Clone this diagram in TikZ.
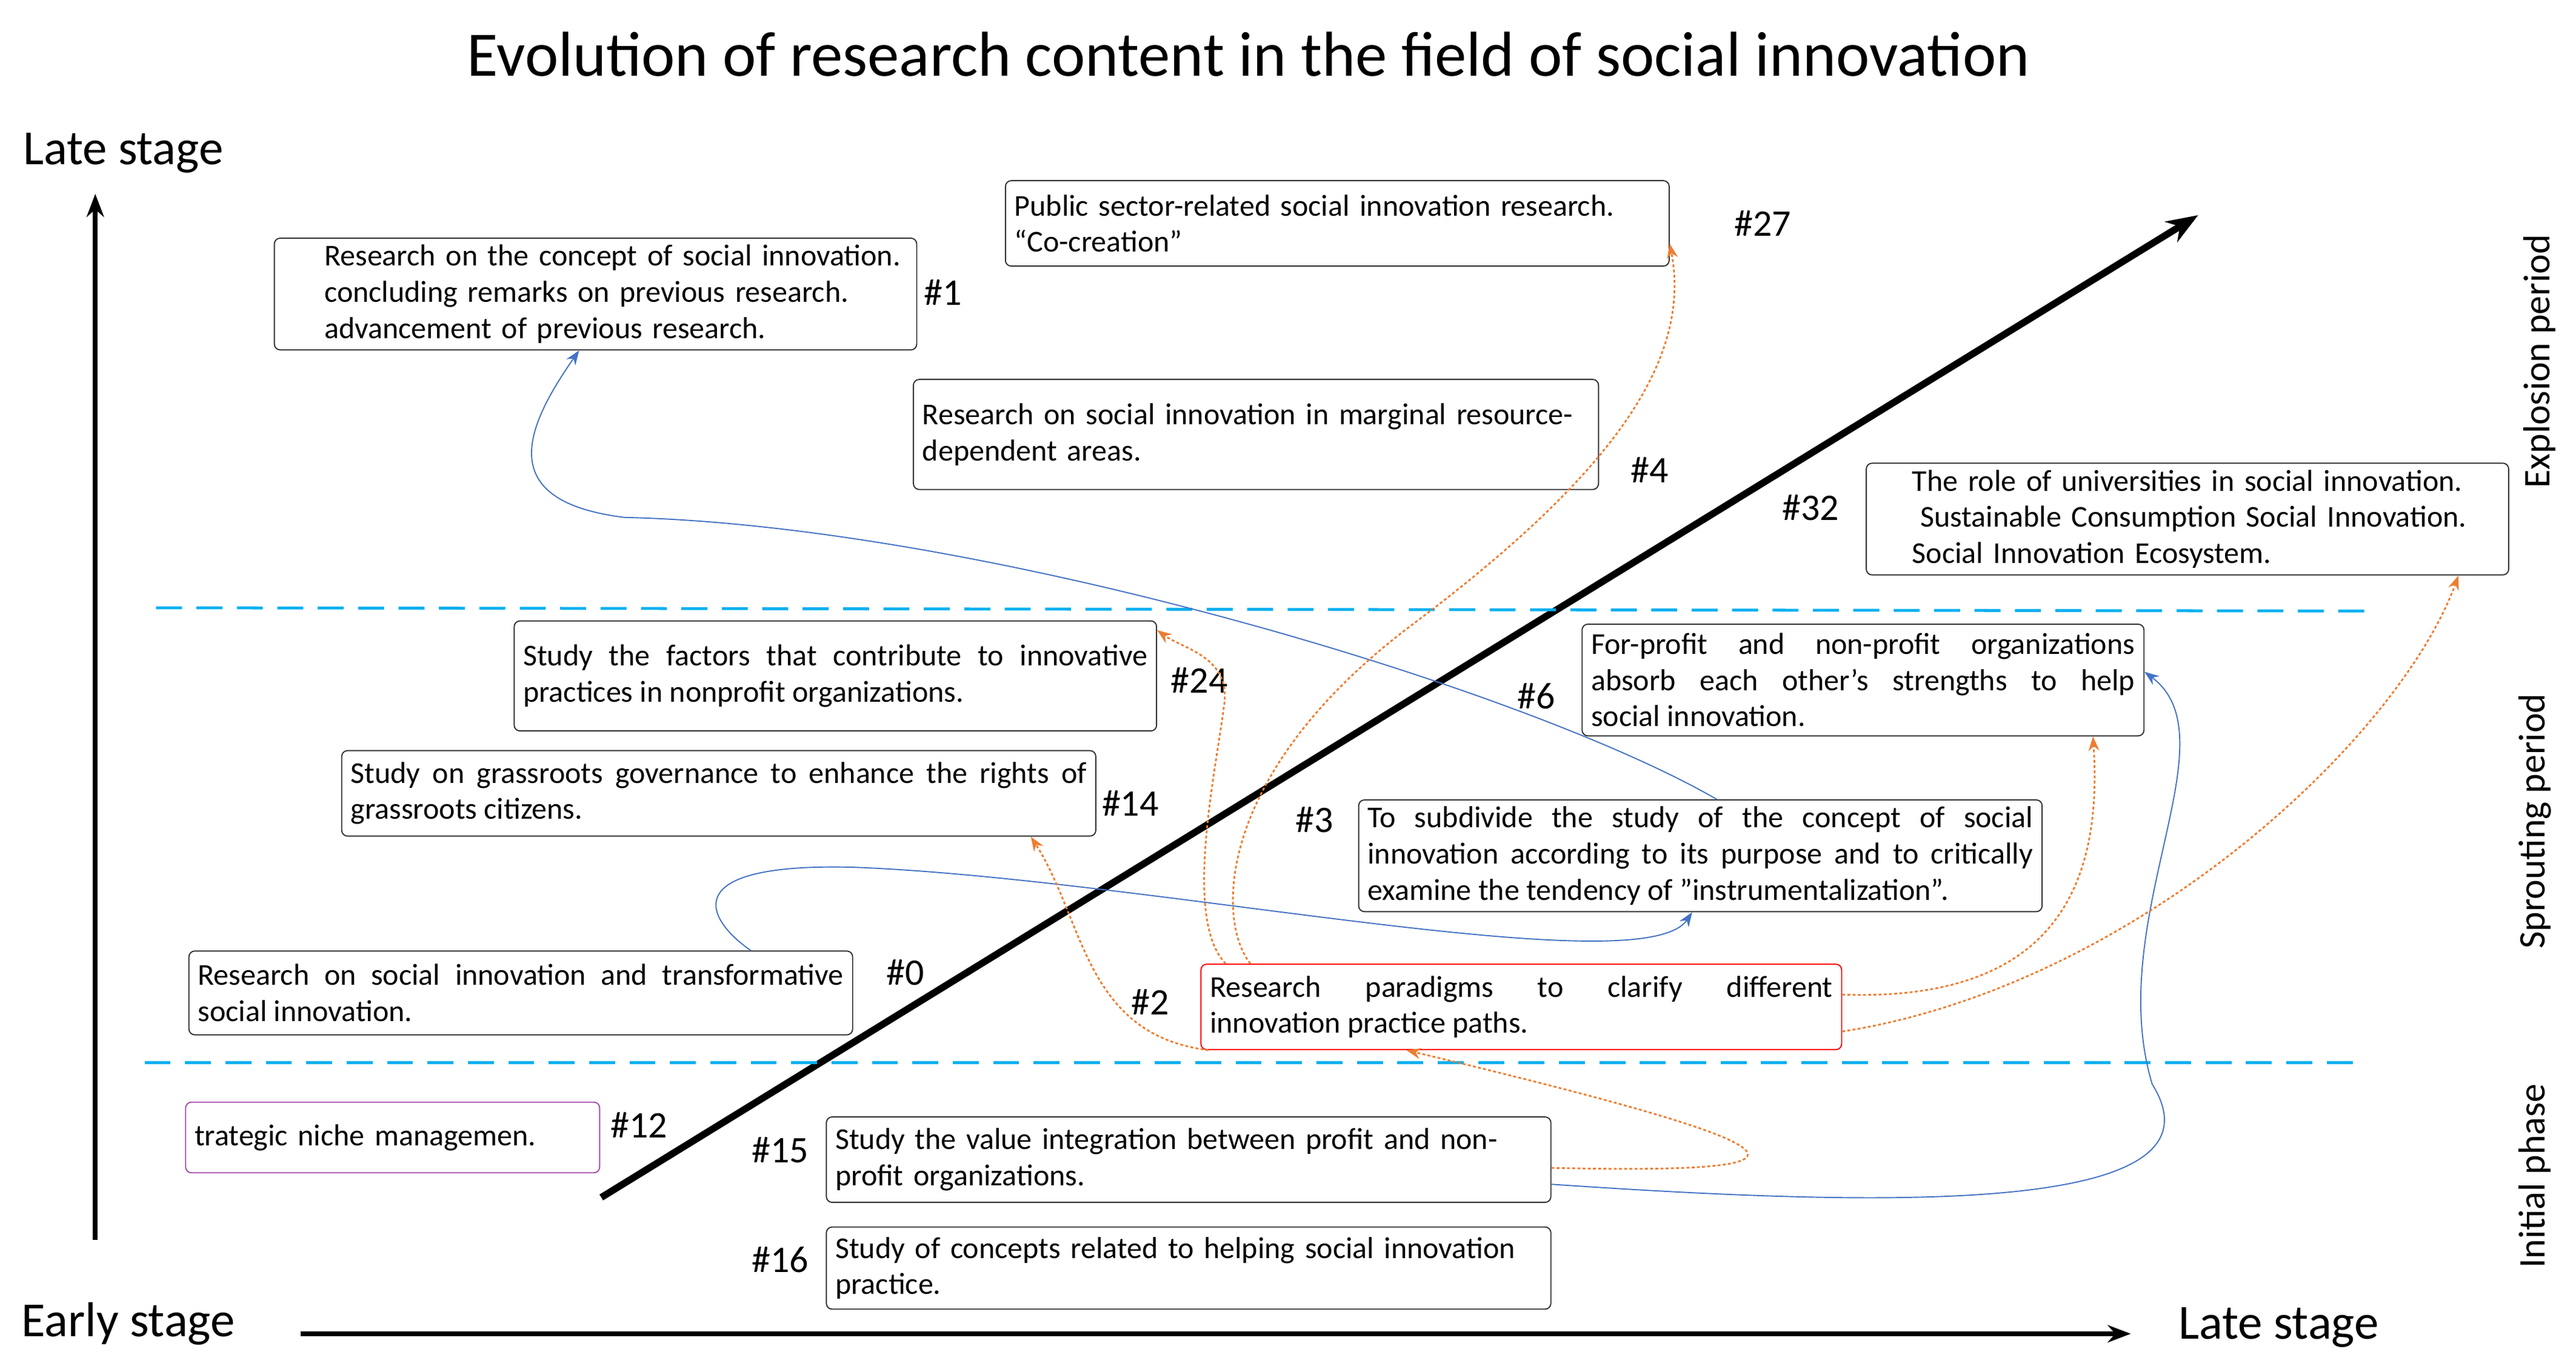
\documentclass[tikz,border=0pt]{standalone}
\usepackage{fontspec}
\setmainfont{Carlito}
\usetikzlibrary{arrows.meta}
\definecolor{bl}{HTML}{4472C4}
\definecolor{og}{HTML}{ED7D31}
\definecolor{cy}{HTML}{00B0F0}
\hyphenpenalty=10000
\newcommand{\bx}[7]{%
  \pgfmathsetmacro{\cx}{(#2+#4)/2}\pgfmathsetmacro{\cy}{(#3+#5)/2}%
  \pgfmathsetmacro{\ww}{(#4-#2)*0.02}\pgfmathsetmacro{\hh}{(#5-#3)*0.02}%
  \pgfmathsetmacro{\tw}{(#4-#2)*0.02-0.22}%
  \node[box,minimum width=\ww cm,minimum height=\hh cm,text width=\tw cm,#6] (#1) at (\cx,\cy) {#7};}
\begin{document}
\begin{tikzpicture}[x=0.02cm,y=-0.02cm,
  box/.style={draw=black!80,rounded corners=2pt,inner sep=0pt,font=\fontsize{10.5}{12.5}\selectfont,align=left},
  lab/.style={font=\fontsize{13}{13}\selectfont},
  bc/.style={draw=bl,thin,-{Stealth[length=5pt]}},
  oc/.style={draw=og,semithick,dash pattern=on 1pt off 0.8pt,-{Stealth[length=5pt]}},
  cyl/.style={draw=cy,line width=1pt,dash pattern=on 9pt off 5pt}]
\useasboundingbox (0,0) rectangle (1568,835);
\node[font=\fontsize{22}{22}\selectfont] (title) at (760,33) {Evolution of research content in the field of social innovation};
% axes
\coordinate (va) at (58,755); \coordinate (vb) at (58,118);
\draw[line width=1.6pt,-{Stealth[length=8pt]}] (va) -- (vb);
\coordinate (ha) at (183,812); \coordinate (hb) at (1297,812);
\draw[line width=1.6pt,-{Stealth[length=8pt]}] (ha) -- (hb);
\coordinate (da) at (366,729); \coordinate (db) at (1338,131);
\draw[line width=2.4pt,-{Stealth[length=11pt]}] (da) -- (db);
\node[font=\fontsize{17}{17}\selectfont] (ls1) at (75,93) {Late stage};
\node[font=\fontsize{17}{17}\selectfont] (es) at (78,806) {Early stage};
\node[font=\fontsize{17}{17}\selectfont] (ls2) at (1387,808) {Late stage};
\coordinate (c1a) at (95,370); \coordinate (c1b) at (1440,372);
\draw[cyl] (c1a) -- (c1b);
\coordinate (c2a) at (88,647); \coordinate (c2b) at (1435,647);
\draw[cyl] (c2a) -- (c2b);
\node[rotate=90,font=\fontsize{13}{13}\selectfont] (p1) at (1546,220) {Explosion period};
\node[rotate=90,font=\fontsize{13}{13}\selectfont] (p2) at (1543,500) {Sprouting period};
\node[rotate=90,font=\fontsize{13}{13}\selectfont] (p3) at (1543,716) {Initial phase};
% boxes
\bx{b1}{167}{145}{558}{213}{}{\hspace*{0.5cm}Research on the concept of social innovation.\\\hspace*{0.5cm}concluding remarks on previous research.\\\hspace*{0.5cm}advancement of previous research.}
\bx{b27}{612}{110}{1016}{162}{}{Public sector-related social innovation research.\\“Co-creation”}
\bx{b4}{556}{231}{973}{298}{}{Research on social innovation in marginal resource-\\dependent areas.}
\bx{b32}{1136}{282}{1527}{350}{}{\hspace*{0.45cm}The role of universities in social innovation.\\\hspace*{0.55cm}Sustainable Consumption Social Innovation.\\\hspace*{0.45cm}Social Innovation Ecosystem.}
\bx{b24}{313}{378}{704}{445}{align=justify}{Study the factors that contribute to innovative\linebreak practices in nonprofit organizations.}
\bx{b6}{963}{380}{1305}{448}{align=justify}{For-profit and non-profit organizations\linebreak absorb each other's strengths to help\linebreak social innovation.}
\bx{b14}{208}{457}{667}{509}{align=justify}{Study on grassroots governance to enhance the rights of\linebreak grassroots citizens.}
\bx{b3}{827}{487}{1243}{555}{align=justify}{To subdivide the study of the concept of social\linebreak innovation according to its purpose and to critically\linebreak examine the tendency of "instrumentalization".}
\bx{b0}{115}{579}{519}{630}{align=justify}{Research on social innovation and transformative\linebreak social innovation.}
\bx{b2}{731}{587}{1121}{639}{draw=red,align=justify}{Research paradigms to clarify different\linebreak innovation practice paths.}
\bx{b12}{113}{671}{365}{714}{draw=violet!70}{trategic niche managemen.}
\bx{b15}{503}{680}{944}{732}{}{Study the value integration between profit and non-\\profit organizations.}
\bx{b16}{503}{747}{944}{797}{}{Study of concepts related to helping social innovation\\practice.}
% labels
\node[lab] (l1) at (574,178) {\#1};
\node[lab] (l27) at (1073,136) {\#27};
\node[lab] (l4) at (1004,286) {\#4};
\node[lab] (l32) at (1102,309) {\#32};
\node[lab] (l24) at (730,414) {\#24};
\node[lab] (l6) at (935,424) {\#6};
\node[lab] (l14) at (688,489) {\#14};
\node[lab] (l3) at (800,499) {\#3};
\node[lab] (l0) at (551,592) {\#0};
\node[lab] (l2) at (700,610) {\#2};
\node[lab] (l12) at (389,685) {\#12};
\node[lab] (l15) at (475,700) {\#15};
\node[lab] (l16) at (475,767) {\#16};
% blue connectors
\draw[bc] ([xshift=0.2cm]b3.north) .. controls (930,420) and (600,320) .. (380,315) .. controls (300,305) and (320,260) .. ([xshift=-0.2cm]b1.south);
\draw[bc] ([xshift=2.8cm]b0.north) .. controls (430,560) and (410,525) .. (520,528) .. controls (700,535) and (1000,600) .. ([xshift=-0.1cm]b3.south);
\draw[bc] ([yshift=-0.3cm]b15.east) .. controls (1150,735) and (1360,740) .. (1310,660) .. controls (1280,560) and (1360,450) .. ([yshift=0.1cm]b6.east);
% orange connectors
\draw[oc] ([xshift=-3.3cm]b2.north) .. controls (740,560) and (740,470) .. (860,380) .. controls (980,290) and (1030,220) .. ([yshift=0.28cm]b27.south east);
\draw[oc] ([xshift=-3.6cm]b2.north) .. controls (720,560) and (740,470) .. (745,430) .. controls (750,400) and (720,395) .. ([yshift=-0.12cm]b24.north east);
\draw[oc] ([xshift=0.1cm]b2.south west) .. controls (660,630) and (660,560) .. ([xshift=3.8cm]b14.south);
\draw[oc] ([yshift=0.15cm]b2.east) .. controls (1250,610) and (1280,540) .. ([xshift=2.8cm]b6.south);
\draw[oc] ([yshift=-0.3cm]b2.east) .. controls (1300,600) and (1460,450) .. ([xshift=3.3cm]b32.south);
\draw[oc] ([yshift=-0.1cm]b15.east) .. controls (1120,715) and (1110,700) .. ([xshift=-1.4cm]b2.south);
\end{tikzpicture}
\end{document}
